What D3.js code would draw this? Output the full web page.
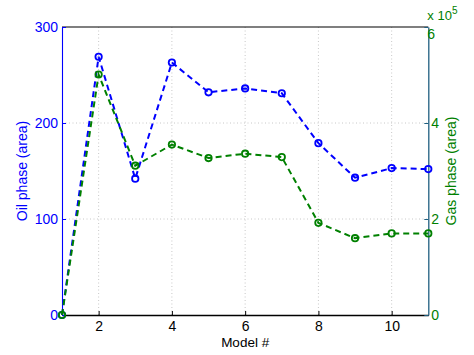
<!DOCTYPE html>
<html><head><meta charset="utf-8">
<script src="https://cdn.jsdelivr.net/npm/d3@7"></script>
<style>
html,body{margin:0;padding:0;background:#fff;}
text{font-family:"Liberation Sans",Arial,sans-serif;}
</style></head>
<body><svg id="chart" width="474" height="355"></svg>
<script>
const models = [1,2,3,4,5,6,7,8,9,10,11];
const oilArea = [0,269,142,263,232,236,231,179,143,153,152];
const gasArea = [0,5.01,3.11,3.55,3.27,3.36,3.29,1.92,1.60,1.70,1.70]; // x 10^5
const xTicks = [2,4,6,8,10];
const oilTicks = [0,100,200,300];
const gasTicks = [0,2,4,6];

const oilColor = "#0000ff", gasColor = "#008000", rightAxisColor = "#1f5f80";
const svg = d3.select("#chart");
const L = 62, R = 428.3, T = 27, B = 315;
const x = d3.scaleLinear().domain([1,11]).range([L,R]);
const yOil = d3.scaleLinear().domain([0,300]).range([B,T]);
const yGas = d3.scaleLinear().domain([0,6]).range([B,T]);

// grid
const grid = svg.append("g").attr("stroke","#c8c8c8").attr("stroke-width",1).attr("stroke-dasharray","1,2.5");
xTicks.forEach(t=>grid.append("line").attr("x1",x(t)).attr("x2",x(t)).attr("y1",T).attr("y2",B));
oilTicks.filter(t=>t>0&&t<300).forEach(t=>grid.append("line").attr("x1",L).attr("x2",R).attr("y1",yOil(t)).attr("y2",yOil(t)));

// bottom axis
const xAxis = svg.append("g").attr("transform",`translate(0,${B})`)
  .call(d3.axisBottom(x).tickValues(xTicks).tickSize(-4).tickPadding(6).tickSizeOuter(0));
xAxis.select(".domain").attr("stroke","#000").attr("stroke-width",1.3);
xAxis.selectAll(".tick line").attr("stroke","#000");
xAxis.selectAll("text").attr("font-size",14).attr("fill","#000").attr("font-family","Liberation Sans, Arial, sans-serif");
// top border
svg.append("line").attr("x1",L).attr("x2",R).attr("y1",T).attr("y2",T).attr("stroke","#000").attr("stroke-width",1.1);

// left axis
const yA = svg.append("g").attr("transform",`translate(${L},0)`)
  .call(d3.axisLeft(yOil).tickValues(oilTicks).tickSize(-4).tickPadding(4).tickSizeOuter(0));
yA.select(".domain").attr("stroke",oilColor).attr("stroke-width",1.1);
yA.selectAll(".tick line").attr("stroke",oilColor);
yA.selectAll("text").attr("font-size",14).attr("fill",oilColor).attr("font-family","Liberation Sans, Arial, sans-serif");

// right axis
const yB = svg.append("g").attr("transform",`translate(${R},0)`)
  .call(d3.axisRight(yGas).tickValues(gasTicks).tickFormat(d3.format("d")).tickSize(-4).tickPadding(3).tickSizeOuter(0));
yB.select(".domain").attr("stroke",rightAxisColor).attr("stroke-width",1.3);
yB.selectAll(".tick line").attr("stroke",rightAxisColor);
yB.selectAll("text").attr("font-size",14).attr("fill",gasColor).attr("font-family","Liberation Sans, Arial, sans-serif");
yB.selectAll(".tick").filter(d=>d===6).select("text").attr("dy","0.85em").attr("x",-1);

// exponent
const ex = svg.append("text").attr("x",R-1).attr("y",20).attr("fill",gasColor).attr("font-size",13);
ex.append("tspan").text("x 10");
ex.append("tspan").attr("font-size",10).attr("dy",-6).text("5");

// series
function drawSeries(vals, yS, color, w){
  const line = d3.line().x((d,i)=>x(models[i])).y(d=>yS(d));
  svg.append("path").datum(vals).attr("d",line).attr("fill","none")
    .attr("stroke",color).attr("stroke-width",w).attr("stroke-dasharray","6,4");
  svg.append("g").selectAll("circle").data(vals).join("circle")
    .attr("cx",(d,i)=>x(models[i])).attr("cy",d=>yS(d)).attr("r",3.2)
    .attr("fill","none").attr("stroke",color).attr("stroke-width",1.8);
}
drawSeries(oilArea, yOil, oilColor, 2);
drawSeries(gasArea, yGas, gasColor, 2);

// labels
svg.append("text").attr("x",(L+R)/2).attr("y",347).attr("text-anchor","middle")
  .attr("font-size",13.5).attr("fill","#000").text("Model #");
svg.append("text").attr("transform",`translate(27,${(T+B)/2}) rotate(-90)`).attr("text-anchor","middle")
  .attr("font-size",14).attr("fill",oilColor).text("Oil phase (area)");
svg.append("text").attr("transform",`translate(456,${(T+B)/2}) rotate(-90)`).attr("text-anchor","middle")
  .attr("font-size",14).attr("fill",gasColor).text("Gas phase (area)");
</script></body></html>
